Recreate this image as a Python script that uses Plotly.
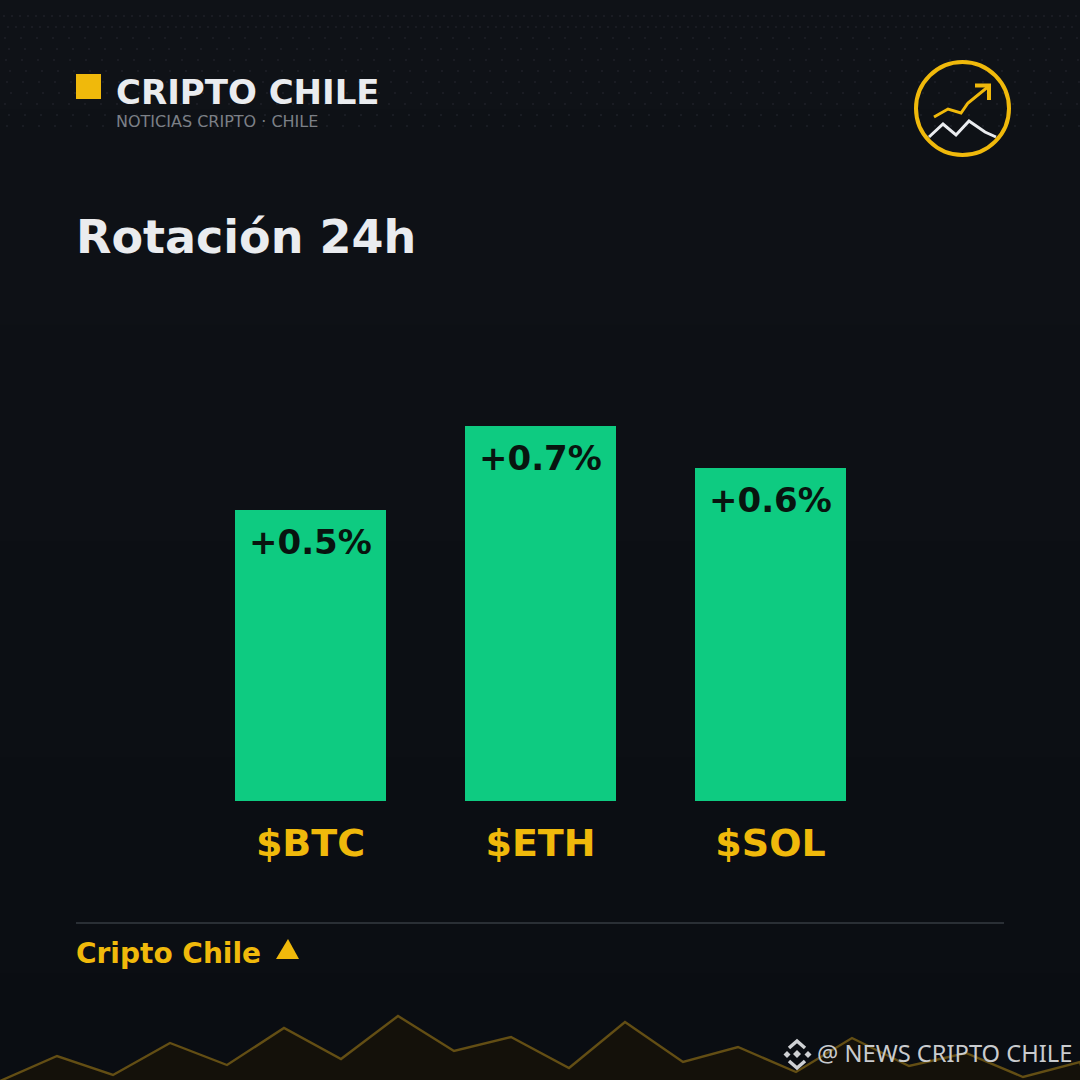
import numpy as np
import plotly.graph_objects as go

# datos del grafico
tickers = ["$BTC", "$ETH", "$SOL"]
changes = [0.5, 0.7, 0.6]
change_labels = ["+0.5%", "+0.7%", "+0.6%"]

# la barra no parte de cero en el original
BAR_BASE = -0.193

# silueta de abajo, en pixeles de la pagina
ridge_x = [0, 57, 113, 170, 227, 284, 341, 398, 454, 511, 569, 625, 683, 738, 796, 852, 909, 966, 1023, 1080]
ridge_y = [1081, 1056, 1075, 1043, 1065, 1028, 1059, 1016, 1051, 1037, 1068, 1022, 1062, 1047, 1072, 1038, 1066, 1053, 1077, 1062]

# logo
gold_line_x = [934, 948, 961, 968, 989]
gold_line_y = [117, 109, 113, 103, 86]
white_line_x = [929, 943, 956, 969, 985, 996]
white_line_y = [137, 124, 135, 121, 132, 137]

GOLD = "#f0b90b"
WHITE = "#eaecef"
GREEN = "#0ecb81"

fig = go.Figure()

# fondo
fig.add_trace(go.Heatmap(
    x=[0, 1080], y=[0, 1080], z=[[0, 0], [1, 1]], zsmooth="best", showscale=False,
    colorscale=[[0, "#0f1217"], [1, "#0a0d12"]], hoverinfo="skip",
))

# puntitos de arriba
dots_x = []
dots_y = []
for offset_x, offset_y in [(0, 16), (4, 27), (1, 38), (5, 49), (2, 60), (6, 71), (3, 82), (7, 93), (1, 104), (5, 115), (3, 126)]:
    row = np.arange(offset_x + 4, 1080, 8 if offset_y < 30 else 16)
    dots_x.extend(row.tolist())
    dots_y.extend([offset_y] * len(row))
fig.add_trace(go.Scatter(
    x=dots_x, y=dots_y, mode="markers", hoverinfo="skip",
    marker=dict(size=1.5, color="#2b2f37", line_width=0),
))

# silueta
fig.add_trace(go.Scatter(
    x=ridge_x + [1090, -10], y=ridge_y + [1095, 1095], mode="lines", fill="toself",
    fillcolor="#14110a", line=dict(color="#634e14", width=2.4), hoverinfo="skip",
))

# logo
fig.add_trace(go.Scatter(
    x=gold_line_x, y=gold_line_y, mode="lines", hoverinfo="skip",
    line=dict(color=GOLD, width=3),
))
fig.add_trace(go.Scatter(
    x=[975, 989, 989], y=[85.5, 85.5, 100], mode="lines", hoverinfo="skip",
    line=dict(color=GOLD, width=4),
))
fig.add_trace(go.Scatter(
    x=white_line_x, y=white_line_y, mode="lines", hoverinfo="skip",
    line=dict(color=WHITE, width=3),
))

# barras
fig.add_trace(go.Bar(
    x=tickers, y=[c - BAR_BASE for c in changes], base=BAR_BASE, width=0.6565,
    marker=dict(color=GREEN, line_width=0), xaxis="x2", yaxis="y2", hoverinfo="skip",
))

shapes = [
    dict(type="rect", x0=76, x1=101, y0=74, y1=99, fillcolor=GOLD, line_width=0),
    dict(type="circle", x0=916, x1=1009, y0=62, y1=155, line=dict(color=GOLD, width=4)),
    dict(type="line", x0=76, x1=1004, y0=923, y1=923, line=dict(color="#2a2f35", width=2)),
    dict(type="path", path="M276,959 L288,939 L299,959 Z", fillcolor=GOLD, line_width=0),
    # marca junto al @
    dict(type="path", path="M797,1050 L801,1054 L797,1058 L793,1054 Z", fillcolor="#cfd1d4", line_width=0),
    dict(type="path", path="M787,1051 L790.5,1054.5 L787,1058 L783.5,1054.5 Z", fillcolor="#cfd1d4", line_width=0),
    dict(type="path", path="M808,1051 L811.5,1054.5 L808,1058 L804.5,1054.5 Z", fillcolor="#cfd1d4", line_width=0),
    dict(type="path", path="M789,1048 L797,1041 L805,1048", line=dict(color="#cfd1d4", width=3.5)),
    dict(type="path", path="M789,1061 L797,1068 L805,1061", line=dict(color="#cfd1d4", width=3.5)),
]
for s in shapes:
    s["xref"] = "x"
    s["yref"] = "y"
    s["layer"] = "above"

annotations = []


def page_text(text, x, y, size, color, family="DejaVu Sans", bold=True, anchor="left"):
    annotations.append(dict(
        text=f"<b>{text}</b>" if bold else text,
        x=x, y=y, xref="x", yref="y", xanchor=anchor, yanchor="middle",
        showarrow=False, font=dict(family=family, size=size, color=color),
    ))


page_text("CRIPTO CHILE", 114, 92, 34, WHITE)
page_text("NOTICIAS CRIPTO · CHILE", 114, 121, 16, "#7c8087", bold=False)
page_text("Rotación 24h", 74, 237, 46, WHITE)
page_text("Cripto Chile", 74, 953, 28, GOLD)
page_text("@ NEWS CRIPTO CHILE", 1074, 1053, 23.7, "#c9cbce", family="Noto Sans", bold=False, anchor="right")

# etiquetas dentro de las barras
for ticker, change, label in zip(tickers, changes, change_labels):
    annotations.append(dict(
        text=f"<b>{label}</b>", x=ticker, y=change, xref="x2", yref="y2",
        yanchor="top", yshift=-10, showarrow=False,
        font=dict(family="DejaVu Sans", size=34, color="#08140f"),
    ))

fig.update_layout(
    width=1080,
    height=1080,
    margin=dict(l=0, r=0, t=0, b=0),
    paper_bgcolor="#0c0f14",
    plot_bgcolor="rgba(0,0,0,0)",
    showlegend=False,
    shapes=shapes,
    annotations=annotations,
    # ejes en pixeles de pagina para fondo, logo y textos
    xaxis=dict(range=[0, 1080], domain=[0, 1], visible=False, fixedrange=True),
    yaxis=dict(range=[1080, 0], domain=[0, 1], visible=False, fixedrange=True),
    xaxis2=dict(
        range=[-310.5 / 230, 769.5 / 230], domain=[0, 1], anchor="y2", type="category",
        categoryorder="array", categoryarray=tickers, showgrid=False, zeroline=False,
        showline=False, ticks="outside", ticklen=8, tickcolor="rgba(0,0,0,0)",
        tickfont=dict(family="DejaVu Sans", size=38, color=GOLD),
        ticktext=[f"<b>{t}</b>" for t in tickers], tickvals=tickers,
    ),
    yaxis2=dict(
        range=[BAR_BASE, BAR_BASE + 801 / 420], domain=[279 / 1080, 1], anchor="x2",
        visible=False, fixedrange=True,
    ),
)

# sin el margen por defecto del body
fig.write_html(
    "out.html",
    config={"displayModeBar": False},
    post_script="document.body.style.margin='0'; document.body.style.overflow='hidden';",
)
